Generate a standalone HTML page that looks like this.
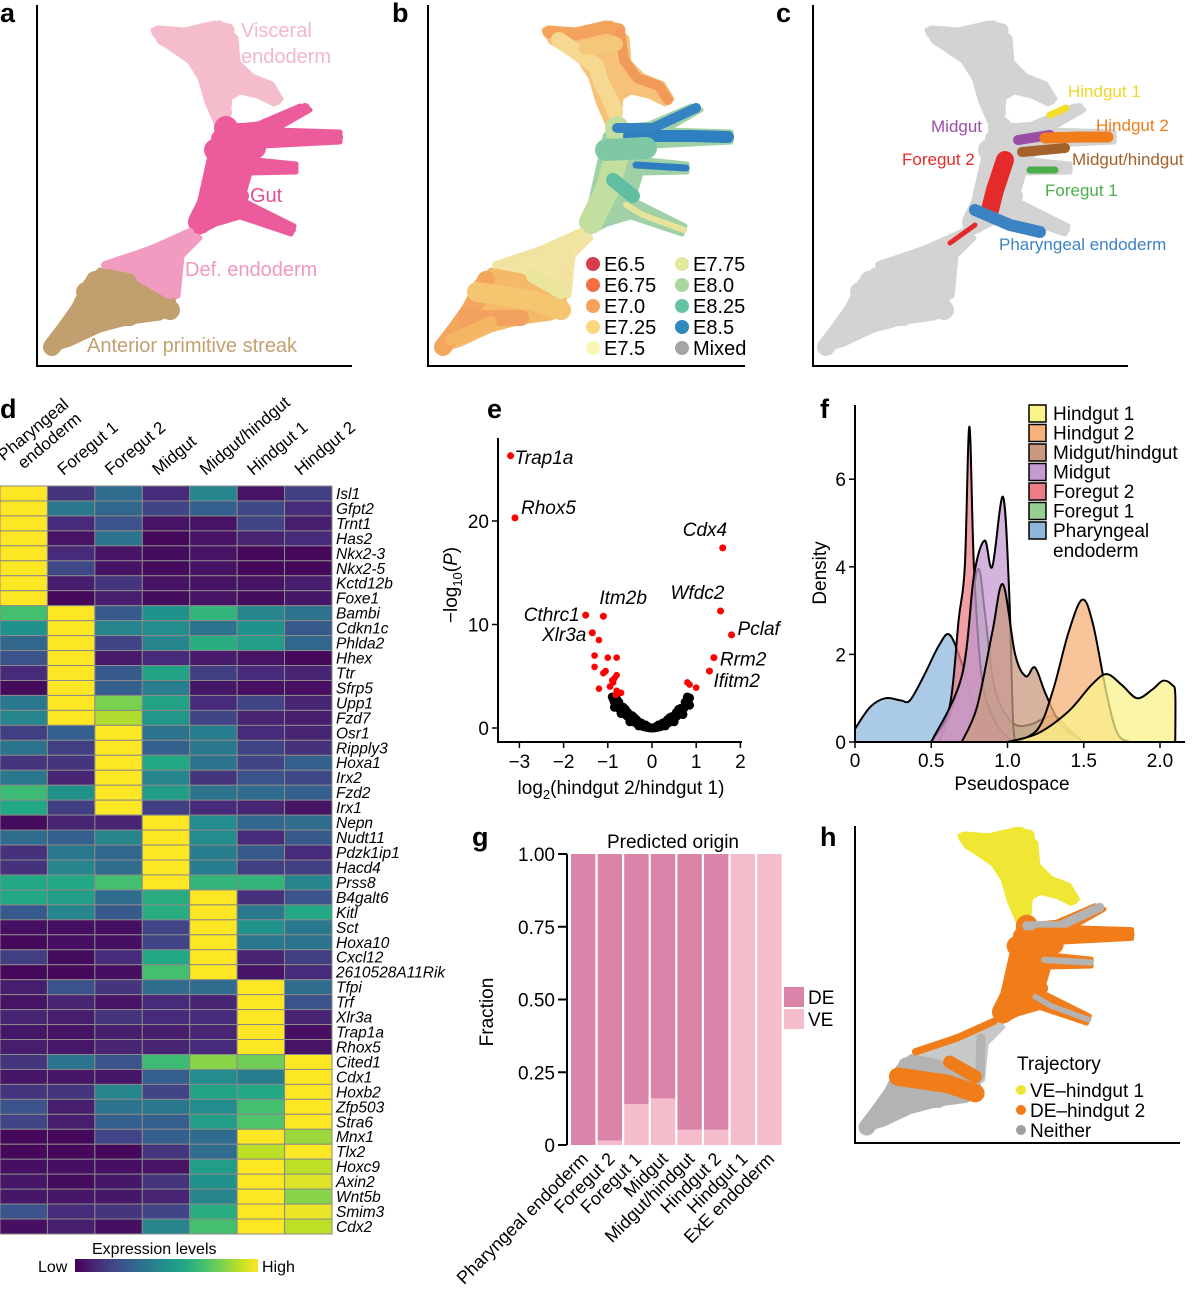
<!DOCTYPE html>
<html><head><meta charset="utf-8"><style>
html,body{margin:0;padding:0;background:#fff;}
svg{display:block;font-family:"Liberation Sans",Arial,sans-serif;}
.pl{font-weight:bold;font-size:27px;}
</style></head><body>
<svg id="fig" width="1200" height="1296" viewBox="0 0 1200 1296" xmlns="http://www.w3.org/2000/svg">
<g id="pa"></g>
<g id="pb"></g>
<g id="pc"></g>
<g id="pd"></g>
<g id="pe"></g>
<g id="pf"></g>
<g id="pg"></g>
<g id="ph"></g>
<text class="pl" x="0" y="22">a</text>
<text class="pl" x="392" y="22">b</text>
<text class="pl" x="776" y="22">c</text>
<text class="pl" x="0" y="418">d</text>
<text class="pl" x="487" y="418">e</text>
<text class="pl" x="820" y="418">f</text>
<text class="pl" x="472" y="846">g</text>
<text class="pl" x="820" y="846">h</text>
</svg>
<script>
const NS="http://www.w3.org/2000/svg";
function mk(tag,attrs,parent){const e=document.createElementNS(NS,tag);for(const k in attrs)e.setAttribute(k,attrs[k]);parent.appendChild(e);return e;}

/* ---------- heatmap data ---------- */
const genes=["Isl1","Gfpt2","Trnt1","Has2","Nkx2-3","Nkx2-5","Kctd12b","Foxe1","Bambi","Cdkn1c","Phlda2","Hhex","Ttr","Sfrp5","Upp1","Fzd7","Osr1","Ripply3","Hoxa1","Irx2","Fzd2","Irx1","Nepn","Nudt11","Pdzk1ip1","Hacd4","Prss8","B4galt6","Kitl","Sct","Hoxa10","Cxcl12","2610528A11Rik","Tfpi","Trf","Xlr3a","Trap1a","Rhox5","Cited1","Cdx1","Hoxb2","Zfp503","Stra6","Mnx1","Tlx2","Hoxc9","Axin2","Wnt5b","Smim3","Cdx2"];
const clusters=["Pharyngeal endoderm","Foregut 1","Foregut 2","Midgut","Midgut/hindgut","Hindgut 1","Hindgut 2"];
const expr=[
[1,.15,.35,.12,.45,.05,.18],[1,.4,.33,.2,.3,.22,.12],[1,.12,.25,.05,.05,.2,.08],[1,.05,.38,.02,.05,.1,.12],
[1,.12,.05,.03,.05,.02,.02],[1,.22,.05,.03,.05,.02,.02],[1,.08,.15,.05,.05,.05,.08],[1,.02,.08,.03,.05,.03,.06],
[.7,1,.28,.5,.65,.45,.38],[.5,1,.45,.48,.38,.5,.28],[.33,1,.2,.45,.62,.55,.33],[.25,1,.07,.12,.07,.05,.02],
[.12,1,.28,.58,.18,.12,.1],[.03,1,.3,.42,.06,.04,.04],[.4,1,.8,.58,.12,.2,.1],[.45,1,.88,.52,.2,.1,.08],
[.18,.3,1,.38,.42,.12,.1],[.38,.18,1,.3,.4,.2,.14],[.15,.15,1,.6,.38,.2,.3],[.4,.1,1,.45,.15,.25,.22],
[.68,.5,1,.55,.38,.35,.3],[.6,.18,1,.18,.12,.1,.05],[.03,.1,.1,1,.48,.33,.35],[.35,.3,.45,1,.48,.12,.28],
[.14,.4,.33,1,.42,.28,.12],[.14,.45,.35,1,.42,.18,.18],[.6,.6,.7,1,.65,.65,.45],[.6,.55,.35,.62,1,.14,.25],
[.28,.45,.28,.62,1,.4,.6],[.04,.04,.04,.2,1,.5,.4],[.02,.04,.04,.2,1,.4,.38],[.18,.03,.12,.6,1,.1,.18],
[.02,.02,.04,.7,1,.05,.12],[.08,.25,.15,.35,.35,1,.35],[.05,.1,.05,.12,.1,1,.25],[.1,.08,.15,.12,.12,1,.1],
[.06,.05,.08,.08,.1,1,.04],[.08,.06,.1,.1,.12,1,.05],[.15,.38,.25,.68,.82,.78,1],[.06,.06,.06,.3,.48,.42,1],
[.15,.15,.45,.2,.58,.6,1],[.25,.08,.38,.4,.48,.7,1],[.2,.08,.3,.3,.55,.72,1],[.02,.02,.2,.3,.35,1,.85],
[.02,.02,.02,.15,.35,.9,1],[.04,.04,.04,.05,.55,1,.9],[.06,.03,.06,.15,.5,1,.95],[.06,.06,.06,.1,.45,1,.82],
[.25,.12,.15,.2,.62,1,.97],[.04,.08,.04,.45,.7,1,.9]];

/* ---------- volcano data ---------- */
const volLabels=["Trap1a","Rhox5","Cdx4","Cthrc1","Itm2b","Xlr3a","Wfdc2","Pclaf","Rrm2","Ifitm2"];
const volLabX=[-3.2,-3.1,1.6,-1.5,-1.1,-1.35,1.55,1.8,1.4,1.3];
const volLabY=[26.3,20.3,17.4,10.9,10.8,9.2,11.3,9.0,6.8,5.5];
const volRedX=[-1.2,-1.3,-1.3,-1.2,-1.0,-0.8,-1.05,-1.1,-0.9,-0.85,-0.8,-0.95,-0.8,-0.75,-0.7,0.8,0.85,1.0,-0.88,-0.82];
const volRedY=[8.5,7.0,5.9,3.8,6.8,6.8,5.5,5.3,4.6,4.8,5.1,4.0,3.6,3.4,3.4,4.4,4.2,3.9,4.4,3.2];
const volBlkX=[-0.9,-0.87,-0.85,-0.82,-0.8,-0.78,-0.75,-0.72,-0.7,-0.67,-0.65,-0.62,-0.6,-0.57,-0.55,-0.52,-0.5,-0.47,-0.45,-0.42,-0.4,-0.37,-0.35,-0.32,-0.3,-0.27,-0.25,-0.22,-0.2,-0.17,-0.15,-0.12,-0.1,-0.07,-0.05,-0.02,0,0.02,0.05,0.07,0.1,0.12,0.15,0.17,0.2,0.22,0.25,0.27,0.3,0.32,0.35,0.37,0.4,0.42,0.45,0.47,0.5,0.52,0.55,0.57,0.6,0.62,0.65,0.67,0.7,0.72,0.75,0.78,0.8,0.83,0.85,-0.75,-0.65,-0.55,-0.45,-0.35,-0.25,-0.15,0.15,0.25,0.35,0.45,0.55,0.65,0.75,-0.6,-0.4,0.4,0.6,-0.8,0.8,-0.7,-0.5,-0.3,-0.1,0.1,0.3,0.5,0.7,-0.85,0.85];
const volBlkY=[3.0,2.7,2.5,2.3,2.2,2.0,1.9,1.8,1.7,1.6,1.5,1.4,1.3,1.2,1.1,1.0,0.9,0.8,0.75,0.65,0.6,0.5,0.45,0.4,0.35,0.3,0.25,0.2,0.15,0.12,0.1,0.07,0.05,0.03,0.02,0.01,0,0.01,0.02,0.03,0.05,0.07,0.1,0.12,0.15,0.2,0.25,0.3,0.35,0.4,0.45,0.5,0.6,0.65,0.75,0.8,0.9,1.0,1.1,1.2,1.3,1.4,1.5,1.6,1.8,1.9,2.2,2.4,2.6,2.8,2.9,2.5,2.0,1.5,1.2,0.8,0.5,0.3,0.3,0.5,0.8,1.1,1.5,1.9,2.5,1.8,1.0,1.0,1.8,2.8,3.0,1.4,0.6,0.2,0.15,0.15,0.2,0.6,1.3,2.0,2.2];

/* ---------- density data ---------- */
const densNames=["Hindgut 1","Hindgut 2","Midgut/hindgut","Midgut","Foregut 2","Foregut 1","Pharyngeal\nendoderm"];
const densColors=["#f9f38a","#f6b27a","#c99a7f","#c59ad0","#ec7d86","#97cf92","#8db8dc"];
const dH1x=[1.0,1.2,1.4,1.55,1.65,1.75,1.85,1.95,2.02,2.08,2.1,2.1];
const dH1y=[0,0.2,0.7,1.3,1.55,1.3,1.0,1.2,1.4,1.3,1.1,0];
const dH2x=[1.05,1.2,1.3,1.4,1.49,1.56,1.65,1.72,1.8];
const dH2y=[0,0.3,1.2,2.5,3.25,2.7,1.1,0.2,0];
const dMHx=[0.7,0.8,0.9,0.97,1.05,1.12,1.18,1.25,1.35,1.5];
const dMHy=[0,0.8,2.5,3.6,2.0,1.5,1.7,1.1,0.4,0];
const dMx=[0.5,0.7,0.78,0.85,0.9,0.97,1.01,1.035,1.05];
const dMy=[0,1.5,3.8,4.6,4.0,5.6,3.5,0.6,0];
const dF2x=[0.5,0.62,0.68,0.72,0.75,0.78,0.83,0.9,1.0,1.1];
const dF2y=[0,0.8,2.8,4.0,7.2,4.0,1.5,0.6,0.1,0];
const dF1x=[0.55,0.7,0.8,0.85,0.9,0.96,1.05,1.15,1.3,1.4,1.5];
const dF1y=[0,1.5,3.9,3.0,1.5,0.8,0.4,0.4,0.6,0.3,0];
const dPx=[0,0.1,0.2,0.3,0.36,0.45,0.55,0.62,0.7,0.8,0.9,1.0,1.1];
const dPy=[0.3,0.8,1.0,0.95,0.95,1.5,2.2,2.45,1.8,0.7,0.15,0.02,0];
const densX=[dH1x,dH2x,dMHx,dMx,dF2x,dF1x,dPx];
const densY=[dH1y,dH2y,dMHy,dMy,dF2y,dF1y,dPy];

/* ---------- bar data ---------- */
const barCats=["Pharyngeal endoderm","Foregut 2","Foregut 1","Midgut","Midgut/hindgut","Hindgut 2","Hindgut 1","ExE endoderm"];
const veFrac=[0,0.015,0.14,0.16,0.052,0.052,1,1];
const barTicks=[0,0.25,0.5,0.75,1.0];
const barTickLabels=["0","0.25","0.50","0.75","1.00"];

/* ---------- viridis ---------- */
const vir=["#440154","#482475","#414487","#355f8d","#2a788e","#21918c","#22a884","#44bf70","#7ad151","#bddf26","#fde725"];
function hex(h){return [parseInt(h.slice(1,3),16),parseInt(h.slice(3,5),16),parseInt(h.slice(5,7),16)];}
function viridis(t){t=Math.max(0,Math.min(1,t));const p=t*10,i=Math.min(9,Math.floor(p)),f=p-i;const a=hex(vir[i]),b=hex(vir[i+1]);return "rgb("+a.map((v,k)=>Math.round(v+(b[k]-v)*f)).join(",")+")";}

/* ---------- UMAP shape (panel a coords) ---------- */
const polys=[
 {r:"ve",p:[[153,30],[185,30],[220,23],[236,38],[238,62],[252,76],[272,84],[281,99],[274,104],[258,96],[240,92],[230,98],[228,118],[216,123],[207,102],[200,78],[186,56],[160,42]]},
 {r:"gut",p:[[220,128],[258,124],[300,106],[310,110],[275,130],[340,132],[340,142],[262,146],[256,160],[296,164],[296,172],[250,173],[242,200],[294,226],[291,234],[240,217],[216,224],[192,236],[200,200],[209,160],[214,136]]},
 {r:"def",p:[[192,232],[200,238],[182,256],[178,296],[166,300],[142,288],[120,276],[104,270],[140,252]]},
 {r:"aps",p:[[50,350],[62,330],[76,302],[86,282],[100,270],[130,276],[150,286],[172,296],[176,310],[160,318],[130,322],[100,330],[70,344]]}];
const skel=[
 {r:"ve",w:13,p:[[158,32],[185,34],[215,27],[228,30]]},
 {r:"ve",w:16,p:[[168,40],[190,55],[205,66],[210,82],[218,97],[224,112]]},
 {r:"ve",w:10,p:[[229,32],[233,60],[246,78],[268,86],[277,100]]},
 {r:"ve",w:14,p:[[195,48],[225,44]]},
 {r:"gut",w:24,p:[[226,128],[230,142],[216,190],[200,222]]},
 {r:"gut",w:10,p:[[226,128],[262,128],[305,108]]},
 {r:"gut",w:12,p:[[238,136],[300,136],[337,137]]},
 {r:"gut",w:22,p:[[215,150],[255,148]]},
 {r:"gut",w:7,p:[[245,165],[295,168]]},
 {r:"gut",w:14,p:[[222,180],[242,196]]},
 {r:"gut",w:6,p:[[235,205],[252,215],[293,230]]},
 {r:"def",w:8,p:[[190,232],[150,250],[105,265]]},
 {r:"def",w:10,p:[[176,250],[175,292]]},
 {r:"def",w:14,p:[[142,276],[170,292]]},
 {r:"aps",w:18,p:[[95,280],[85,302],[65,330],[52,347]]},
 {r:"aps",w:20,p:[[86,292],[140,300],[170,310]]},
 {r:"aps",w:16,p:[[75,318],[130,318]]},
 {r:"aps",w:12,p:[[60,340],[100,322]]}];
function drawSkel(parent,tr,colorFn,polyFn){
 const g=mk("g",{transform:tr},parent);
 polys.forEach(s=>{const pg=mk("polygon",{points:s.p.map(q=>q.join(",")).join(" "),fill:polyFn(s),stroke:polyFn(s),"stroke-width":5,"stroke-linejoin":"round"},g);
 
 });
 skel.forEach((s,i)=>{const pl=mk("polyline",{points:s.p.map(q=>q.join(",")).join(" "),fill:"none",stroke:colorFn(s,i),"stroke-width":s.w,"stroke-linecap":"round","stroke-linejoin":"round"},g);
 
 });
 return g;}
function txt(parent,x,y,s,attrs){const t=mk("text",Object.assign({x:x,y:y},attrs||{}),parent);t.textContent=s;return t;}
function axesL(parent,x,y0,y1,x1){mk("polyline",{points:`${x},${y0} ${x},${y1} ${x1},${y1}`,fill:"none",stroke:"#000","stroke-width":2},parent);}

/* ---- panel a ---- */
const pa=document.getElementById("pa");
axesL(pa,37,5,366,352);
const aCol={ve:"#f5bccb",gut:"#ec5c9c",def:"#f29bc0",aps:"#c29f6e"};
drawSkel(pa,"",s=>aCol[s.r],s=>aCol[s.r]);
[["Visceral",241,37,"#f4b7c8"],["endoderm",241,63,"#f4b7c8"],["Gut",250,202,"#ea4d93"],["Def. endoderm",185,276,"#f297c0"],["Anterior primitive streak",87,352,"#c4a070"]].forEach(l=>{const t=txt(pa,l[1],l[2],l[0],{fill:l[3],"font-size":20});
 
 });

/* ---- panel b ---- */
const pb=document.getElementById("pb");
axesL(pb,428,5,366,745);
const bCols=["#f4a35c","#f7d890","#f29a5a","#f4c878","#c3df9f","#3583c2","#2f80c0","#7fc8a6","#2e7dbf","#5fbfa0","#e6e39a","#f0e3a0","#f2e2a0","#e9e59d","#f4a55e","#f6c570","#f3a15e","#f5b563"];
const bPoly={ve:"#f6c27a",gut:"#9fd0a6",def:"#f3e4a4",aps:"#f5b96a"};
drawSkel(pb,"translate(391,0)",(s,i)=>bCols[i],s=>bPoly[s.r]);
const bLeg=[["E6.5","#d53e4f"],["E6.75","#f46d43"],["E7.0","#f7a25c"],["E7.25","#fdd77f"],["E7.5","#fbf4b8"],["E7.75","#e3e99a"],["E8.0","#a9d7a0"],["E8.25","#66c2a5"],["E8.5","#3288bd"],["Mixed","#a5a5a5"]];
bLeg.forEach((l,i)=>{const cx=i<5?593:682,cy=264+(i%5)*21;const c=mk("circle",{cx:cx,cy:cy,r:7,fill:l[1]},pb);
 
 
 const t=txt(pb,cx+11,cy+7,l[0],{"font-size":20});
 
 });

/* ---- panel c ---- */
const pc=document.getElementById("pc");
axesL(pc,813,5,366,1128);
drawSkel(pc,"translate(774,0)",()=>"#d3d3d3",()=>"#d3d3d3");
const cOv=[["#9b4ea6",10,[[1018,140],[1050,135]]],["#f4dc2c",7,[[1050,115],[1066,108]]],["#f07d1a",11,[[1045,138],[1080,137],[1108,137]]],["#a5612a",10,[[1022,152],[1065,148]]],["#4aae4a",7,[[1030,170],[1055,170]]],["#e42a2a",18,[[1005,160],[995,190],[990,210]]],["#3c83c4",12,[[975,210],[1010,225],[1040,232]]],["#e42a2a",5,[[950,243],[975,225]]]];
cOv.forEach(o=>{const pl=mk("polyline",{points:o[2].map(q=>q.join(",")).join(" "),fill:"none",stroke:o[0],"stroke-width":o[1],"stroke-linecap":"round"},pc);
 
 });
[["Hindgut 1",1068,97,"#f2d52a"],["Midgut",931,132,"#9b4ea6"],["Hindgut 2",1096,131,"#f07d1a"],["Foregut 2",902,165,"#e42a2a"],["Midgut/hindgut",1072,165,"#a5612a"],["Foregut 1",1045,196,"#4aae4a"],["Pharyngeal endoderm",999,250,"#3c83c4"]].forEach(l=>{const t=txt(pc,l[1],l[2],l[0],{fill:l[3],"font-size":17});
 
 });

/* ---- panel d heatmap ---- */
const pd=document.getElementById("pd");
const hx0=0,hy0=486,cw=332/7,rh=748/50;
expr.forEach((row,r)=>{row.forEach((v,c)=>{const rc=mk("rect",{x:hx0+c*cw,y:hy0+r*rh,width:cw,height:rh,fill:viridis(v),stroke:"#8a8a8a","stroke-width":1},pd);
 
 });
 const t=txt(pd,336,hy0+r*rh+rh-2,genes[r],{"font-size":15.5,"font-style":"italic"});
 
 });
clusters.forEach((c,i)=>{const x=hx0+i*cw+16,y=476;const t=mk("text",{x:x,y:y,"font-size":17,transform:`rotate(-40 ${x} ${y})`},pd);
 
 
 if(i===0){const a=mk("tspan",{x:x,dy:-19},t);a.textContent="Pharyngeal";const b=mk("tspan",{x:x+10,dy:19},t);b.textContent="endoderm";}else t.textContent=c;});
const defs=mk("defs",{},pd);const lg=mk("linearGradient",{id:"virg"},defs);
vir.forEach((c,i)=>mk("stop",{offset:(i*10)+"%","stop-color":c},lg));
const cb=mk("rect",{x:75,y:1259,width:183,height:13,fill:"url(#virg)"},pd);


txt(pd,92,1254,"Expression levels",{"font-size":16});
txt(pd,38,1272,"Low",{"font-size":16});
txt(pd,262,1272,"High",{"font-size":16});

/* ---- panel e volcano ---- */
const pe=document.getElementById("pe");
const ex=v=>652+v*44.2, ey=v=>728-v*10.35;
axesL(pe,498,438,742,742);
[-3,-2,-1,0,1,2].forEach(v=>{mk("line",{x1:ex(v),x2:ex(v),y1:742,y2:748,stroke:"#000","stroke-width":1.5},pe);txt(pe,ex(v),768,v<0?"\u2212"+(-v):String(v),{"font-size":19,"text-anchor":"middle"});});
[0,10,20].forEach(v=>{mk("line",{x1:492,x2:498,y1:ey(v),y2:ey(v),stroke:"#000","stroke-width":1.5},pe);txt(pe,489,ey(v)+7,String(v),{"font-size":19,"text-anchor":"end"});});
volBlkX.forEach((x,i)=>{const c=mk("circle",{cx:ex(x),cy:ey(volBlkY[i]),r:4.5,fill:"#000"},pe);
 
 });
volRedX.forEach((x,i)=>{const c=mk("circle",{cx:ex(x),cy:ey(volRedY[i]),r:3.3,fill:"#f00"},pe);
 
 });
const labOff=[[4,8,"start"],[6,-4,"start"],[-40,-12,"start"],[-6,6,"end"],[-4,-12,"start"],[-6,8,"end"],[-50,-12,"start"],[6,0,"start"],[6,8,"start"],[4,16,"start"]];
volLabX.forEach((x,i)=>{const c=mk("circle",{cx:ex(x),cy:ey(volLabY[i]),r:3.5,fill:"#f00"},pe);
 
 
 const t=txt(pe,ex(x)+labOff[i][0],ey(volLabY[i])+labOff[i][1],volLabels[i],{"font-size":19,"font-style":"italic","text-anchor":labOff[i][2]});
 
 });
const yl=mk("text",{x:0,y:0,"font-size":19,"text-anchor":"middle",transform:"translate(457,585) rotate(-90)"},pe);


yl.innerHTML='\u2212log<tspan font-size="13" dy="5">10</tspan><tspan dy="-5">(</tspan><tspan font-style="italic">P</tspan>)';
const xl=mk("text",{x:621,y:794,"font-size":19,"text-anchor":"middle"},pe);


xl.innerHTML='log<tspan font-size="13" dy="5">2</tspan><tspan dy="-5">(hindgut 2/hindgut 1)</tspan>';

/* ---- panel f density ---- */
const pf=document.getElementById("pf");
const fx=v=>855+v*152.5, fy=v=>742-v*43.8;
function smooth(pts){let d=`M${pts[0][0]},${pts[0][1]}`;for(let i=0;i<pts.length-1;i++){const p0=pts[Math.max(0,i-1)],p1=pts[i],p2=pts[i+1],p3=pts[Math.min(pts.length-1,i+2)];const c1=[p1[0]+(p2[0]-p0[0])/6,p1[1]+(p2[1]-p0[1])/6],c2=[p2[0]-(p3[0]-p1[0])/6,p2[1]-(p3[1]-p1[1])/6];d+=`C${c1[0]},${Math.min(c1[1],742)} ${c2[0]},${Math.min(c2[1],742)} ${p2[0]},${p2[1]}`;}return d;}
for(let s=densX.length-1;s>=0;s--){const pts=densX[s].map((x,i)=>[fx(x),fy(densY[s][i])]);
 const d=smooth(pts)+`L${pts[pts.length-1][0]},742 L${pts[0][0]},742Z`;
 const p=mk("path",{d:d,fill:densColors[s],"fill-opacity":0.75,stroke:"#000","stroke-width":2},pf);
 
 }
axesL(pf,855,405,742,1185);
[0,0.5,1.0,1.5,2.0].forEach((v,i)=>{mk("line",{x1:fx(v),x2:fx(v),y1:742,y2:748,stroke:"#000","stroke-width":1.5},pf);txt(pf,fx(v),767,["0","0.5","1.0","1.5","2.0"][i],{"font-size":19,"text-anchor":"middle"});});
[0,2,4,6].forEach(v=>{mk("line",{x1:849,x2:855,y1:fy(v),y2:fy(v),stroke:"#000","stroke-width":1.5},pf);txt(pf,846,fy(v)+7,String(v),{"font-size":19,"text-anchor":"end"});});
txt(pf,1012,790,"Pseudospace",{"font-size":19,"text-anchor":"middle"});
txt(pf,0,0,"Density",{"font-size":19,"text-anchor":"middle",transform:"translate(826,573) rotate(-90)"});
densNames.forEach((n,i)=>{const y=405+i*19.5;const r=mk("rect",{x:1029,y:y,width:17,height:17,fill:densColors[i],stroke:"#000","stroke-width":1.5},pf);
 
 
 const parts=n.split("\n");parts.forEach((p,k)=>{const t=txt(pf,1053,y+15+k*20,p,{"font-size":19});
 
 });});

/* ---- panel g bars ---- */
const pg=document.getElementById("pg");
const gy=v=>1145-v*291, bx=i=>571+i*26.6, bw=24.4;
barCats.forEach((c,i)=>{
 const r1=mk("rect",{x:bx(i),y:gy(1),width:bw,height:gy(veFrac[i])-gy(1),fill:"#db84aa"},pg);
 
 
 const r2=mk("rect",{x:bx(i),y:gy(veFrac[i]),width:bw,height:gy(0)-gy(veFrac[i]),fill:"#f5bccb"},pg);
 
 
 const x=bx(i)+bw/2+6,y=1160;const t=txt(pg,x,y,c,{"font-size":18,"text-anchor":"end",transform:`rotate(-45 ${x} ${y})`});
 
 });
mk("line",{x1:567,x2:567,y1:gy(1),y2:gy(0),stroke:"#000","stroke-width":2},pg);
barTicks.forEach((v,i)=>{mk("line",{x1:558,x2:567,y1:gy(v),y2:gy(v),stroke:"#000","stroke-width":2},pg);txt(pg,555,gy(v)+7,barTickLabels[i],{"font-size":19,"text-anchor":"end"});});
txt(pg,673,848,"Predicted origin",{"font-size":19,"text-anchor":"middle"});
txt(pg,0,0,"Fraction",{"font-size":19,"text-anchor":"middle",transform:"translate(493,1012) rotate(-90)"});
[["DE","#db84aa",987],["VE","#f5bccb",1009]].forEach(l=>{const r=mk("rect",{x:784,y:l[2],width:20,height:20,fill:l[1]},pg);
 
 
 const t=txt(pg,808,l[2]+17,l[0],{"font-size":19});
 
 });

/* ---- panel h ---- */
const ph=document.getElementById("ph");
axesL(ph,855,826,1143,1180);
const hCol=["#f0e634","#f0e634","#f0e634","#f0e634","#f07d1a","#b3b3b3","#f07d1a","#f07d1a","#b3b3b3","#f07d1a","#b3b3b3","#f07d1a","#b3b3b3","#f07d1a","#b3b3b3","#f07d1a","#b3b3b3","#b3b3b3"];
const hPoly={ve:"#f0e634",gut:"#f07d1a",def:"#c8c8c8",aps:"#b3b3b3"};
drawSkel(ph,"translate(819,808) scale(0.92)",(s,i)=>hCol[i],s=>hPoly[s.r]);
txt(ph,1017,1070,"Trajectory",{"font-size":19});
[["VE\u2013hindgut 1","#f0e634"],["DE\u2013hindgut 2","#f07d1a"],["Neither","#a0a0a0"]].forEach((l,i)=>{const y=1090+i*20;const c=mk("circle",{cx:1021,cy:y,r:5,fill:l[1]},ph);
 
 
 const t=txt(ph,1030,y+7,l[0],{"font-size":19});
 
 });
</script>
</body></html>
